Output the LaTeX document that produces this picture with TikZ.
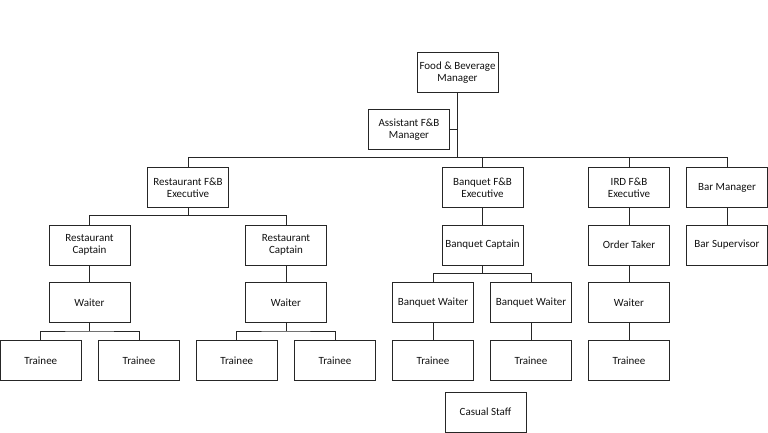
\documentclass[tikz,border=0pt]{standalone}
\usepackage{fontspec}
\setmainfont{Carlito}
\usepackage{tikz}
\usetikzlibrary{positioning}
\definecolor{edge}{HTML}{262626}
\definecolor{ink}{HTML}{111111}

\begin{document}
\begin{tikzpicture}[x=1pt,y=-1pt,font=\fontsize{11}{12}\selectfont,
  post/.style={draw=edge,line width=0.9pt,text=ink,minimum width=81pt,minimum height=40pt,align=center,inner sep=1pt},
  link/.style={draw=edge,line width=0.9pt}]
\useasboundingbox (0,0) rectangle (768,433);
% top of the tree
\node[post] (fbm) at (457.5,72.5) {Food \& Beverage\\Manager};
\node[post] (afbm) at (409,129.5) {Assistant F\&B\\Manager};
% department heads
\node[post] (rexec) at (188,187.5) {Restaurant F\&B\\Executive};
\node[post] (bexec) at (482.5,187.5) {Banquet F\&B\\Executive};
\node[post] (irdexec) at (629,187.5) {IRD F\&B\\Executive};
\node[post] (barmgr) at (727,187.5) {Bar Manager};
% captains and supervisors
\node[post] (rcapa) at (89.5,245) {Restaurant\\Captain};
\node[post] (rcapb) at (286,245) {Restaurant\\Captain};
\node[post] (bcap) at (482.5,245) {Banquet Captain};
\node[post] (otaker) at (629,245) {Order Taker};
\node[post] (barsup) at (727,245) {Bar Supervisor};
% waiters
\node[post] (rwaitera) at (89.5,302.8) {Waiter};
\node[post] (rwaiterb) at (286,302.8) {Waiter};
\node[post] (bwaitera) at (433,302.8) {Banquet Waiter};
\node[post] (bwaiterb) at (531,302.8) {Banquet Waiter};
\node[post] (iwaiter) at (629,302.8) {Waiter};
% trainees
\node[post] (tra) at (40.8,360.5) {Trainee};
\node[post] (trb) at (139,360.5) {Trainee};
\node[post] (trc) at (236.8,360.5) {Trainee};
\node[post] (trd) at (335,360.5) {Trainee};
\node[post] (tre) at (433,360.5) {Trainee};
\node[post] (trf) at (531,360.5) {Trainee};
\node[post] (trg) at (629,360.5) {Trainee};
\node[post] (casual) at (485.5,412) {Casual Staff};

% bus points
\coordinate (topbus) at (457.5,157.5);
\coordinate (rbus) at (188,215.7);
\coordinate (wbusa) at (89.5,331);
\coordinate (wbusb) at (286,331);
\coordinate (bbus) at (482.5,273.3);

\draw[link] (fbm) -- (topbus);
\draw[link] (afbm) -- (afbm -| fbm);
\draw[link] (rexec) |- (topbus) -| (barmgr);
\draw[link] (topbus) -| (bexec);
\draw[link] (topbus) -| (irdexec);
% restaurant
\draw[link] (rexec) -- (rbus);
\draw[link] (rcapa) |- (rbus) -| (rcapb);
\draw[link] (rcapa) -- (rwaitera);
\draw[link] (rcapb) -- (rwaiterb);
\draw[link] (rwaitera) -- (wbusa);
\draw[link] (tra) |- (wbusa) -| (trb);
\draw[link] (rwaiterb) -- (wbusb);
\draw[link] (trc) |- (wbusb) -| (trd);
% banquet
\draw[link] (bexec) -- (bcap);
\draw[link] (bcap) -- (bbus);
\draw[link] (bwaitera) |- (bbus) -| (bwaiterb);
\draw[link] (bwaitera) -- (tre);
\draw[link] (bwaiterb) -- (trf);
% in-room dining and bar
\draw[link] (irdexec) -- (otaker);
\draw[link] (otaker) -- (iwaiter);
\draw[link] (iwaiter) -- (trg);
\draw[link] (barmgr) -- (barsup);
\end{tikzpicture}
\end{document}
